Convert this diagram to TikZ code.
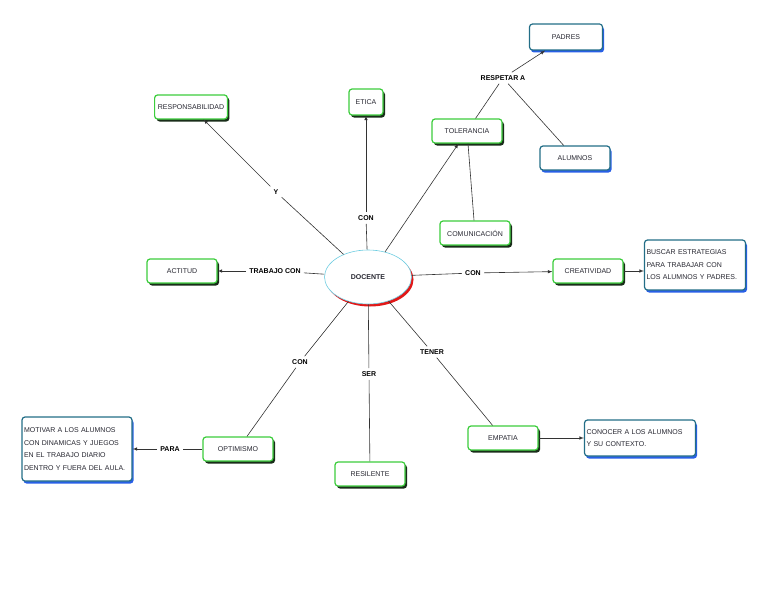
\documentclass[tikz,border=0pt]{standalone}
\usepackage{fontspec}
\setmainfont{Liberation Sans}
\usepackage{tikz}
\usetikzlibrary{arrows,shadows,shapes.geometric}
\definecolor{verde}{RGB}{60,205,60}
\definecolor{sombra}{RGB}{25,45,25}
\definecolor{azul}{RGB}{35,110,135}
\definecolor{sombraazul}{RGB}{40,95,230}
\definecolor{cian}{RGB}{110,205,225}
\definecolor{rojo}{RGB}{225,25,25}
\definecolor{texto}{RGB}{40,40,50}
\newcommand{\tx}{\fontsize{7}{12.5}\selectfont}

\begin{document}
\begin{tikzpicture}[x=1pt,y=-1pt,line width=0.6pt,draw=black!80,
    concepto/.style={draw=verde,line width=1.2pt,fill=white,rounded corners=3pt,
      minimum width=70pt,minimum height=24pt,font=\tx,text=texto,
      drop shadow={shadow xshift=2pt,shadow yshift=-2.5pt,fill=sombra,opacity=1}},
    detalle/.style={draw=azul,line width=1.2pt,fill=white,rounded corners=3pt,
      minimum width=70pt,minimum height=24pt,font=\tx,text=texto,
      drop shadow={shadow xshift=1.5pt,shadow yshift=-2.5pt,fill=sombraazul,opacity=1}},
    parrafo/.style={detalle,align=left,inner xsep=2pt},
    enlace/.style={font=\tx\bfseries,inner sep=3pt},
    flecha/.style={-latex}]
       \useasboundingbox (0,0) rectangle (768,594);
       \node[ellipse,draw=cian,fill=white,minimum width=87pt,minimum height=54pt,
         font=\tx\bfseries,text=texto,
         drop shadow={shadow xshift=2pt,shadow yshift=-2.5pt,fill=rojo,opacity=1}]
         (docente) at (368,277) {DOCENTE};
       \node[concepto] (resp) at (191,107) {RESPONSABILIDAD};
       \node[concepto,minimum width=34pt,minimum height=26pt] (etica) at (366,102) {ETICA};
       \node[concepto] (toler) at (467,131) {TOLERANCIA};
       \node[detalle,minimum width=73pt,minimum height=26pt] (padres) at (566,37) {PADRES};
       \node[detalle] (alumnos) at (575,158) {ALUMNOS};
       \node[concepto] (comun) at (475,233) {COMUNICACIÓN};
       \node[concepto] (actitud) at (182,271) {ACTITUD};
       \node[concepto] (creat) at (588,271) {CREATIVIDAD};
       \node[parrafo,text width=97pt,minimum height=50pt] (buscar) at (695,265)
         {BUSCAR ESTRATEGIAS\\PARA TRABAJAR CON\\LOS ALUMNOS Y PADRES.};
       \node[concepto] (optim) at (238,449) {OPTIMISMO};
       \node[parrafo,text width=106pt,minimum height=64pt] (motivar) at (77,449)
         {MOTIVAR A LOS ALUMNOS\\CON DINAMICAS Y JUEGOS\\EN EL TRABAJO DIARIO\\DENTRO Y FUERA DEL AULA.};
       \node[concepto] (resil) at (370,474) {RESILENTE};
       \node[concepto] (empatia) at (503,438) {EMPATIA};
       \node[parrafo,text width=107pt,minimum height=36pt] (conocer) at (640,438)
         {CONOCER A LOS ALUMNOS\\Y SU CONTEXTO.};
       \node[enlace] (y) at (276,192) {Y};
       \node[enlace] (con1) at (366,218) {CON};
       \node[enlace] (respetar) at (503,78) {RESPETAR A};
       \node[enlace] (trabajo) at (275,271) {TRABAJO CON};
       \node[enlace] (con2) at (473,273) {CON};
       \node[enlace] (con3) at (300,362) {CON};
       \node[enlace] (ser) at (369,374) {SER};
       \node[enlace] (tener) at (432,352) {TENER};
       \node[enlace] (para) at (170,449) {PARA};
       \draw (docente) -- (y);
       \draw[flecha] (y) -- (resp);
       \draw (docente) -- (con1);
       \draw[flecha] (con1) -- (etica);
       \draw[flecha] (docente) -- (toler);
       \draw (comun) -- (toler);
       \draw (toler) -- (respetar);
       \draw[flecha] (respetar) -- (padres);
       \draw (alumnos) -- (respetar);
       \draw (docente) -- (trabajo);
       \draw[flecha] (trabajo) -- (actitud);
       \draw (docente) -- (con2);
       \draw[flecha] (con2) -- (creat);
       \draw[flecha] (creat) -- (creat -| buscar.west);
       \draw (docente) -- (con3) -- (optim);
       \draw (optim) -- (para);
       \draw[flecha] (para) -- (motivar);
       \draw (docente) -- (ser) -- (resil);
       \draw (docente) -- (tener) -- (empatia);
       \draw[flecha] (empatia) -- (conocer);
      \end{tikzpicture}
\end{document}
